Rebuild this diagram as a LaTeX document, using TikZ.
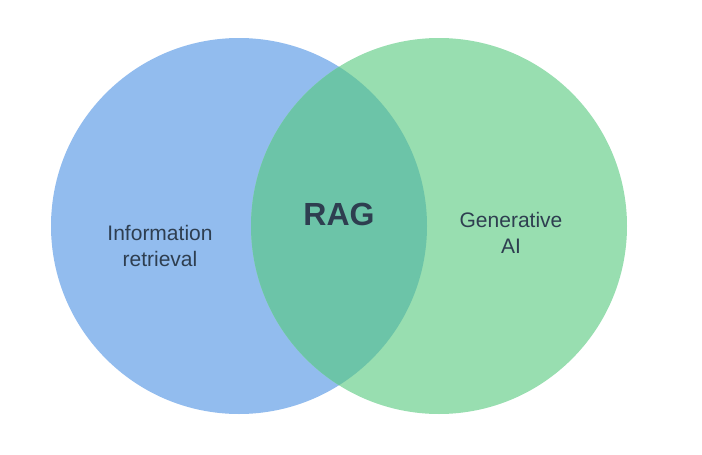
\documentclass[tikz,border=0pt]{standalone}
\usepackage{fontspec}
\setmainfont{Liberation Sans}
\usetikzlibrary{positioning}
\definecolor{irblue}{HTML}{92BCEE}
\definecolor{aigreen}{HTML}{98DEB0}
\definecolor{ragmix}{HTML}{6CC4A8}
\definecolor{labeltext}{HTML}{2E3E50}
\tikzset{lbl/.style={text=labeltext, font=\fontsize{21}{26}\selectfont, align=center}}
\begin{document}
\begin{tikzpicture}[x=1pt,y=-1pt]
\useasboundingbox (0,0) rectangle (702,455);
\fill [irblue] (239,226) circle (188);
\fill [aigreen] (439,226) circle (188);
\begin{scope}
\clip (239,226) circle (188);
\fill [ragmix] (439,226) circle (188);
\end{scope}
%
\node (ir) [lbl] at (160,246) {Information\\retrieval};
\node (rag) [lbl, font=\bfseries\fontsize{32}{38}\selectfont] at (339,214) {RAG};
\node (ai) [lbl] at (511,233) {Generative\\AI};
\end{tikzpicture}
\end{document}
